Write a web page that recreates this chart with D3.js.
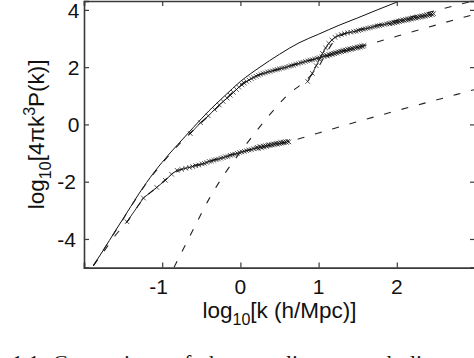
<!DOCTYPE html>
<html><head><meta charset="utf-8">
<script src="https://cdnjs.cloudflare.com/ajax/libs/d3/7.8.5/d3.min.js"></script>
<style>body{margin:0;background:#fff}svg{display:block}</style>
</head><body>
<svg id="chart" width="474" height="358"></svg>
<script>
// ---- data (log10 k, log10 4πk^3P) ----
const xTicks = [-2, -1, 0, 1, 2, 3];
const xTickLabels = ["-1", "0", "1", "2"];
const yTicks = [-4, -2, 0, 2, 4];
const yTickLabels = ["-4", "-2", "0", "2", "4"];

const linearCurve = [[-1.88,-4.93],[-1.75,-4.38],[-1.6,-3.72],[-1.5,-3.29],[-1.4,-2.86],[-1.3,-2.43],[-1.2,-2.03],[-1.1,-1.66],[-1.0,-1.32],[-0.9,-1.0],[-0.8,-0.7],[-0.6,-0.1],[-0.4,0.48],[-0.2,1.0],[0,1.5],[0.25,2.0],[0.5,2.45],[0.75,2.85],[1.0,3.15],[1.25,3.45],[1.5,3.72],[1.75,4.0],[2.0,4.27],[2.15,4.42]];

const dashLow = [[-1.88,-4.93],[-1.75,-4.45],[-1.6,-3.88],[-1.45,-3.4],[-1.24,-2.6],[-1.07,-2.2],[-0.9,-1.8],[-0.75,-1.56],[-0.5,-1.37],[0,-0.96],[0.3,-0.77],[0.62,-0.6],[1.0,-0.3],[1.5,0.1],[2.0,0.48],[2.5,0.85],[3.0,1.22]];
const dashMid = [[-1.88,-4.93],[-1.6,-3.74],[-1.2,-2.05],[-1.0,-1.35],[-0.8,-0.74],[-0.64,-0.3],[-0.4,0.32],[-0.2,0.85],[0,1.38],[0.5,1.94],[1.0,2.32],[1.58,2.75],[2.0,3.08],[2.5,3.47],[3.0,3.85]];
const dashHigh = [[-0.85,-5.0],[-0.6,-3.65],[-0.4,-2.6],[-0.2,-1.72],[0,-0.96],[0.2,-0.25],[0.4,0.42],[0.6,1.02],[0.8,1.45],[0.9,1.7],[1.0,2.02],[1.1,2.5],[1.2,2.92],[1.3,3.12],[1.5,3.3],[2.0,3.63],[2.5,3.98],[3.0,4.33]];

const simLow = [[-1.45,-3.40],[-1.24,-2.57],[-1.07,-2.20],[-0.96,-1.95],[-0.88,-1.74],[-0.81,-1.60],[-0.75,-1.57],[-0.70,-1.53],[-0.65,-1.50],[-0.61,-1.47],[-0.57,-1.44],[-0.53,-1.42],[-0.49,-1.38],[-0.46,-1.36],[-0.43,-1.33],[-0.40,-1.29],[-0.37,-1.28],[-0.34,-1.25],[-0.31,-1.23],[-0.28,-1.21],[-0.25,-1.18],[-0.22,-1.16],[-0.19,-1.13],[-0.16,-1.12],[-0.13,-1.08],[-0.10,-1.06],[-0.07,-1.04],[-0.04,-1.01],[-0.01,-0.98],[0.02,-0.96],[0.05,-0.94],[0.08,-0.92],[0.11,-0.89],[0.14,-0.88],[0.17,-0.85],[0.20,-0.83],[0.215,-0.80],[0.23,-0.84],[0.245,-0.78],[0.26,-0.79],[0.275,-0.81],[0.29,-0.76],[0.305,-0.78],[0.32,-0.74],[0.335,-0.77],[0.35,-0.73],[0.365,-0.71],[0.38,-0.74],[0.395,-0.70],[0.41,-0.72],[0.425,-0.68],[0.44,-0.70],[0.455,-0.66],[0.47,-0.69],[0.485,-0.65],[0.50,-0.67],[0.515,-0.63],[0.53,-0.66],[0.545,-0.62],[0.56,-0.64],[0.575,-0.60],[0.59,-0.63],[0.605,-0.59],[0.62,-0.61]];

const simMid = [[-0.64,-0.32],[-0.51,0.06],[-0.41,0.3],[-0.33,0.52],[-0.27,0.68],[-0.22,0.8],[-0.17,0.92],[-0.13,1.02],[-0.09,1.12],[-0.05,1.22],[-0.02,1.3],[0.02,1.38],[0.05,1.44],[0.08,1.5],[0.11,1.55],[0.14,1.6],[0.17,1.64],[0.2,1.68],[0.23,1.72],[0.26,1.75],[0.29,1.78],[0.32,1.8],[0.35,1.83],[0.38,1.85],[0.41,1.87],[0.44,1.9],[0.47,1.92],[0.5,1.94],[0.53,1.96],[0.56,1.98],[0.59,2.0],[0.62,2.03],[0.65,2.05],[0.68,2.07],[0.71,2.1],[0.74,2.12],[0.77,2.15],[0.8,2.17],[0.83,2.2],[0.86,2.22],[0.89,2.24],[0.92,2.26],[0.95,2.28],[0.98,2.31],[1.01,2.33],[1.04,2.36],[1.07,2.38],[1.1,2.41],[1.115,2.39],[1.13,2.44],[1.145,2.42],[1.16,2.46],[1.175,2.45],[1.19,2.49],[1.205,2.47],[1.22,2.51],[1.235,2.49],[1.25,2.54],[1.265,2.52],[1.28,2.56],[1.295,2.54],[1.31,2.58],[1.325,2.56],[1.34,2.60],[1.355,2.58],[1.37,2.62],[1.385,2.60],[1.40,2.64],[1.415,2.62],[1.43,2.66],[1.445,2.64],[1.46,2.68],[1.475,2.66],[1.49,2.70],[1.505,2.68],[1.52,2.72],[1.535,2.70],[1.55,2.74],[1.565,2.72],[1.58,2.76]];

const simHigh = [[0.86,1.5],[0.92,1.78],[0.97,2.05],[1.01,2.27],[1.05,2.48],[1.09,2.67],[1.13,2.83],[1.17,2.95],[1.21,3.04],[1.25,3.1],[1.29,3.14],[1.33,3.17],[1.37,3.2],[1.41,3.22],[1.45,3.24],[1.48,3.26],[1.51,3.28],[1.54,3.3],[1.57,3.32],[1.6,3.34],[1.63,3.36],[1.66,3.38],[1.69,3.4],[1.72,3.42],[1.75,3.44],[1.78,3.45],[1.81,3.47],[1.84,3.49],[1.87,3.51],[1.9,3.53],[1.915,3.51],[1.93,3.55],[1.945,3.53],[1.96,3.57],[1.975,3.55],[1.99,3.59],[2.005,3.57],[2.02,3.61],[2.035,3.59],[2.05,3.63],[2.065,3.61],[2.08,3.65],[2.095,3.63],[2.11,3.67],[2.125,3.64],[2.14,3.68],[2.155,3.66],[2.17,3.70],[2.185,3.68],[2.2,3.72],[2.215,3.70],[2.23,3.74],[2.245,3.71],[2.26,3.76],[2.275,3.73],[2.29,3.78],[2.305,3.75],[2.32,3.79],[2.335,3.77],[2.35,3.81],[2.365,3.78],[2.38,3.83],[2.395,3.80],[2.41,3.84],[2.425,3.82],[2.44,3.86],[2.455,3.83],[2.47,3.87]];

const caption = [["1.1", 12], ["Comparison", 53], ["of", 173], ["the", 203], ["nonlinear", 253], ["and", 360], ["linear", 410]];

// ---- layout ----
const svg = d3.select("#chart");
const x = d3.scaleLinear().domain([-2, 3]).range([84, 475]);
const y = d3.scaleLinear().domain([-5, 4.31]).range([267.6, 1]);
const axisColor = "#3a3a3a";

svg.append("defs").append("clipPath").attr("id", "clip")
  .append("rect").attr("x", x(-2)).attr("y", y(4.31)).attr("width", x(3) - x(-2)).attr("height", y(-5) - y(4.31));

const plot = svg.append("g").attr("clip-path", "url(#clip)");
const line = d3.line().x(d => x(d[0])).y(d => y(d[1])).curve(d3.curveMonotoneX);
const segLine = d3.line().x(d => x(d[0])).y(d => y(d[1]));

plot.append("path").datum(linearCurve).attr("d", line).attr("fill", "none").attr("stroke", "#111").attr("stroke-width", 1);
[dashLow, dashMid, dashHigh].forEach(s => {
  plot.append("path").datum(s).attr("d", line).attr("fill", "none").attr("stroke", "#222")
    .attr("stroke-width", 1.1).attr("stroke-dasharray", "7,11");
});
[simLow, simMid, simHigh].forEach(s => {
  plot.append("path").datum(s).attr("d", segLine).attr("fill", "none").attr("stroke", "#111").attr("stroke-width", 0.9);
  plot.append("g").selectAll("path").data(s).join("path")
    .attr("transform", d => `translate(${x(d[0])},${y(d[1])})`)
    .attr("d", "M-2.3,-2.3L2.3,2.3M-2.3,2.3L2.3,-2.3")
    .attr("stroke", "#111").attr("stroke-width", 0.7).attr("fill", "none");
});

// ---- axes (inward ticks) ----
const gx = svg.append("g").attr("transform", `translate(0,${y(-5)})`)
  .call(d3.axisBottom(x).tickValues(xTicks).tickSize(-5).tickFormat(""));
const gxt = svg.append("g").attr("transform", `translate(0,${y(4.31)})`)
  .call(d3.axisTop(x).tickValues(xTicks).tickSize(-5).tickFormat(""));
const gy = svg.append("g").attr("transform", `translate(${x(-2)},0)`)
  .call(d3.axisLeft(y).tickValues(yTicks).tickSize(-5).tickFormat(""));
const gyr = svg.append("g").attr("transform", `translate(${x(3)},0)`)
  .call(d3.axisRight(y).tickValues(yTicks).tickSize(-5).tickFormat(""));
[gx, gxt, gy, gyr].forEach(g => {
  g.selectAll("path").attr("stroke", axisColor).attr("stroke-width", 1.6);
  g.selectAll("line").attr("stroke", axisColor).attr("stroke-width", 1.2);
});

const font = "Liberation Sans, Arial, Helvetica, sans-serif";
// x tick labels: digits centred on the tick
svg.append("g").selectAll("text").data(xTickLabels).join("text")
  .attr("x", d => x(+d) + 5.8).attr("y", 293.5)
  .attr("text-anchor", "end").attr("font-family", font).attr("font-size", 21).attr("fill", "#111")
  .text(d => d);
// y tick labels
svg.append("g").selectAll("text").data(yTickLabels).join("text")
  .attr("x", d => (+d < 0 ? 76 : 79.5)).attr("y", d => y(+d) + 7.8)
  .attr("text-anchor", "end").attr("font-family", font).attr("font-size", 21).attr("fill", "#111")
  .text(d => d);

// x axis label
const xl = svg.append("text").attr("x", (x(-2) + x(3)) / 2).attr("y", 318)
  .attr("text-anchor", "middle").attr("font-family", font).attr("font-size", 22.5).attr("fill", "#111");
xl.append("tspan").text("log");
xl.append("tspan").attr("font-size", 16).attr("dy", 7).text("10");
xl.append("tspan").attr("dy", -7).text("[k (h/Mpc)]");

// y axis label
const yl = svg.append("text").attr("transform", `translate(44,${(y(-5) + y(4.31)) / 2}) rotate(-90)`)
  .attr("text-anchor", "middle").attr("font-family", font).attr("font-size", 22.5).attr("fill", "#111");
yl.append("tspan").text("log");
yl.append("tspan").attr("font-size", 16).attr("dy", 7).text("10");
yl.append("tspan").attr("dy", -7).text("[4\u03c0k");
yl.append("tspan").attr("font-size", 16).attr("dy", -9).text("3");
yl.append("tspan").attr("dy", 9).text("P(k)]");

// cropped caption line (only the tops of the glyphs show)
svg.append("g").selectAll("text").data(caption).join("text")
  .attr("x", d => d[1]).attr("y", 370)
  .attr("font-family", "Liberation Serif, Times New Roman, serif").attr("font-size", 22).attr("fill", "#111")
  .text(d => d[0]);
</script>
</body></html>
